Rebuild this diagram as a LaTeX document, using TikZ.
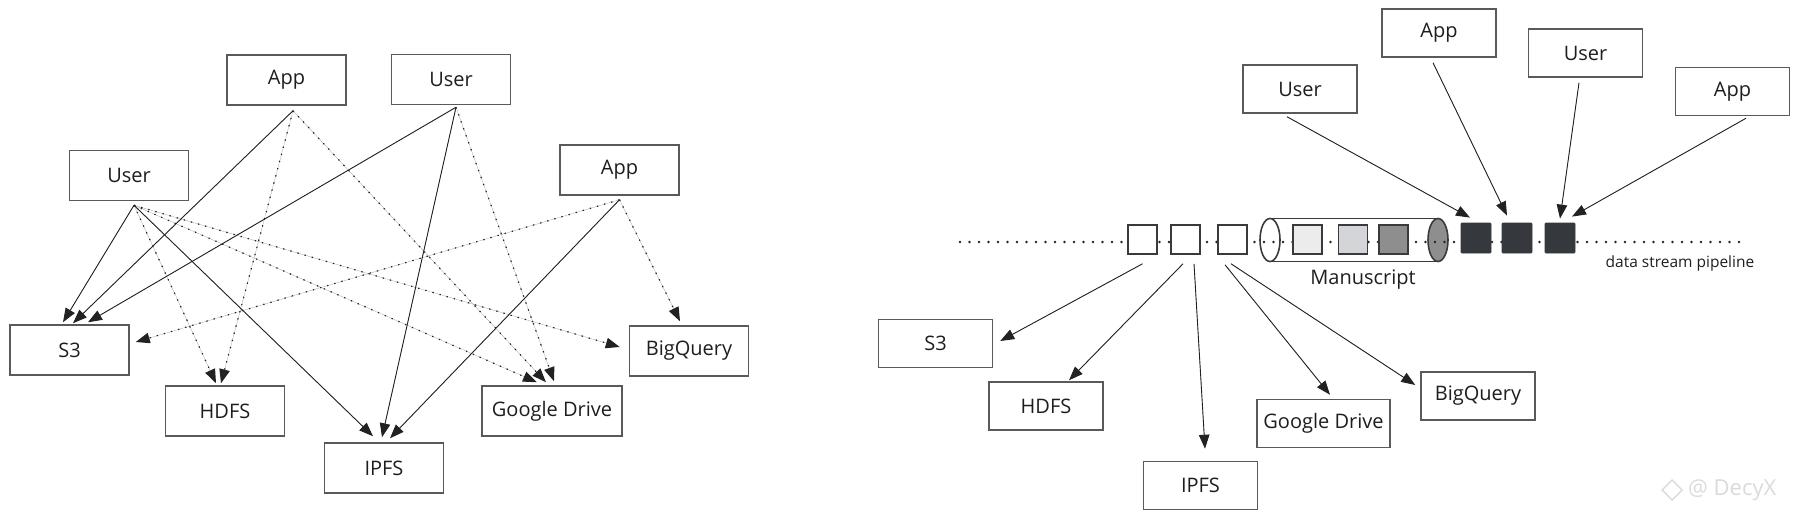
\documentclass[tikz,border=0pt]{standalone}
\usepackage{fontspec}
\setmainfont{Open Sans}
\usetikzlibrary{arrows.meta,calc}
\definecolor{boxc}{HTML}{5A5A5A}
\definecolor{txt}{HTML}{1E1E1E}
\definecolor{linec}{HTML}{222222}
\definecolor{dk}{HTML}{3A3A3A}
\definecolor{dark}{HTML}{35393E}
\definecolor{g1}{HTML}{ECECEC}
\definecolor{g2}{HTML}{D3D5D8}
\definecolor{g3}{HTML}{8E8E8E}
\definecolor{wm}{HTML}{DADADA}
\begin{document}
\begin{tikzpicture}[x=1pt,y=-1pt,
  box/.style={draw=boxc, line width=1.5pt, fill=white, minimum width=119pt, minimum height=50pt, inner sep=0pt, font=\fontsize{20}{22}\selectfont, text=txt},
  rbox/.style={box, minimum width=114pt, minimum height=48pt},
  arr/.style={-{Triangle[length=14pt,width=10.5pt]}, line width=0.9pt, draw=linec, fill=linec},
  dotarr/.style={arr, line width=1.2pt, dash pattern=on 1.4pt off 6pt},
  sq/.style={draw=dk, line width=1.6pt, minimum size=29pt, inner sep=0pt},
  dsq/.style={draw=dark, fill=dark, line width=0.8pt, minimum size=30pt, inner sep=0pt, rounded corners=1pt},
  lbl/.style={text=txt, inner sep=0pt}
]
\useasboundingbox (0,0) rectangle (1799,519);

% ---------------- left diagram ----------------
\node[box] (app1)  at (286.5,80)  {App};
\node[box] (user1) at (451,79.5)  {User};
\node[box] (user2) at (129,175.5) {User};
\node[box] (app2)  at (619.5,170) {App};
\node[box] (s3L)   at (69.5,350)  {S3};
\node[box] (hdfsL) at (225,411)   {HDFS};
\node[box] (ipfsL) at (384,468)   {IPFS};
\node[box, minimum width=140pt] (gdL) at (552,411) {Google Drive};
\node[box] (bqL)   at (689,351)   {BigQuery};

% from left User
\draw[arr]    ($(user2.south)+(5,4)$) -- ($(s3L.north)+(-6.5,-2)$);
\draw[arr]    ($(user2.south)+(5,4)$) -- ($(ipfsL.north)+(-11,-6)$);
\draw[dotarr] ($(user2.south)+(5,4)$) -- ($(hdfsL.north)+(-9,-2)$);
\draw[dotarr] ($(user2.south)+(5,4)$) -- ($(gdL.north)+(-15,-3)$);
\draw[dotarr] ($(user2.south)+(5,4)$) -- ($(bqL.west)+(-9,-4)$);
% from top App
\draw[arr]    ($(app1.south)+(6.5,5)$) -- ($(s3L.north)+(3.5,-1)$);
\draw[dotarr] ($(app1.south)+(6.5,5)$) -- ($(hdfsL.north)+(-4,-2)$);
\draw[dotarr] ($(app1.south)+(6.5,5)$) -- ($(gdL.north)+(-6,-3)$);
% from top User
\draw[arr]    ($(user1.south)+(5,2)$) -- ($(s3L.north)+(18.5,-2)$);
\draw[arr]    ($(user1.south)+(5,2)$) -- ($(ipfsL.north)+(-2,-5)$);
\draw[dotarr] ($(user1.south)+(5,2)$) -- ($(gdL.north)+(2,-4)$);
% from right App
\draw[dotarr] ($(app2.south)+(0,4)$) -- ($(s3L.east)+(6,-8)$);
\draw[arr]    ($(app2.south)+(0,4)$) -- ($(ipfsL.north)+(6,-4)$);
\draw[dotarr] ($(app2.south)+(0,4)$) -- ($(bqL.north)+(-9,-4)$);

% ---------------- right diagram ----------------
\node[rbox] (r1) at (1300,89)    {User};
\node[rbox] (r2) at (1439,33)    {App};
\node[rbox] (r3) at (1585.5,53)  {User};
\node[rbox] (r4) at (1732.5,91.5){App};
\node[rbox] (s3R)   at (935.5,343.5) {S3};
\node[rbox] (hdfsR) at (1046,406)    {HDFS};
\node[rbox] (ipfsR) at (1200.5,485.5){IPFS};
\node[rbox, minimum width=133pt] (gdR) at (1323.5,423.5) {Google Drive};
\node[rbox] (bqR)   at (1478,396)    {BigQuery};

% cylinder
\coordinate (cylL) at (1270,240);
\coordinate (cylR) at (1438,240);
\fill[white] (1270,218.5) rectangle (1438,261.5);
\draw[dk, line width=1.6pt] (1270,218.5) -- (1438,218.5) (1270,261.5) -- (1438,261.5);
\draw[dk, line width=1.6pt, fill=white] (cylL) ellipse [x radius=10, y radius=21.5];
\draw[dk, line width=1.6pt, fill=g3] (cylR) ellipse [x radius=10, y radius=21.5];

% pipeline
\coordinate (pl) at (960,242);
\coordinate (pr) at (1743,242);
\draw[linec, line width=2.6pt, line cap=round, dash pattern=on 0pt off 9.5pt] (pl) -- (pr);

\node[sq, fill=white] (w1) at (1142.5,239.5) {};
\node[sq, fill=white] (w2) at (1185.5,239.5) {};
\node[sq, fill=white] (w3) at (1232.5,239.5) {};
\node[sq, fill=g1] (m1) at (1307.5,239.5) {};
\node[sq, fill=g2] (m2) at (1353,239.5) {};
\node[sq, fill=g3] (m3) at (1393.5,239.5) {};
\node[dsq] (d1) at (1476,238) {};
\node[dsq] (d2) at (1517,238) {};
\node[dsq] (d3) at (1560,238) {};

\node[lbl, font=\fontsize{20}{22}\selectfont] (manu) at (1363,280) {Manuscript};
\node[lbl, font=\fontsize{15.5}{18}\selectfont] (dsp) at (1680,263) {data stream pipeline};

% inputs
\draw[arr] ($(r1.south)+(-13,3)$)  -- ($(d1.north)+(-6,-5)$);
\draw[arr] ($(r2.south)+(-6,5)$)   -- ($(d2.north)+(-10,-7)$);
\draw[arr] ($(r3.south)+(-6.5,5)$) -- ($(d3.north)+(0,-4)$);
\draw[arr] ($(r4.south)+(13.5,2)$) -- ($(d3.north)+(12,-6)$);

% outputs
\draw[arr] ($(w1.south)+(0,9)$)    -- ($(s3R.east)+(7,-2.5)$);
\draw[arr] ($(w2.south)+(-2.5,9)$) -- ($(hdfsR.north)+(23,-1)$);
\draw[arr] ($(w2.south)+(8.5,9)$)  -- ($(ipfsR.north)+(4.5,-12)$);
\draw[arr] ($(w3.south)+(-7.5,10)$)-- ($(gdR.north)+(6.5,-4)$);
\draw[arr] ($(w3.south)+(-1.5,9)$) -- ($(bqR.west)+(-5,-11)$);

% watermark
\draw[wm, line width=1.4pt] (1672,480) -- (1682,490) -- (1672,500) -- (1662,490) -- cycle;
\node[text=wm, inner sep=0pt, font=\fontsize{22}{24}\selectfont, anchor=west] (wmark) at (1688,490) {@ DecyX};
\end{tikzpicture}
\end{document}
